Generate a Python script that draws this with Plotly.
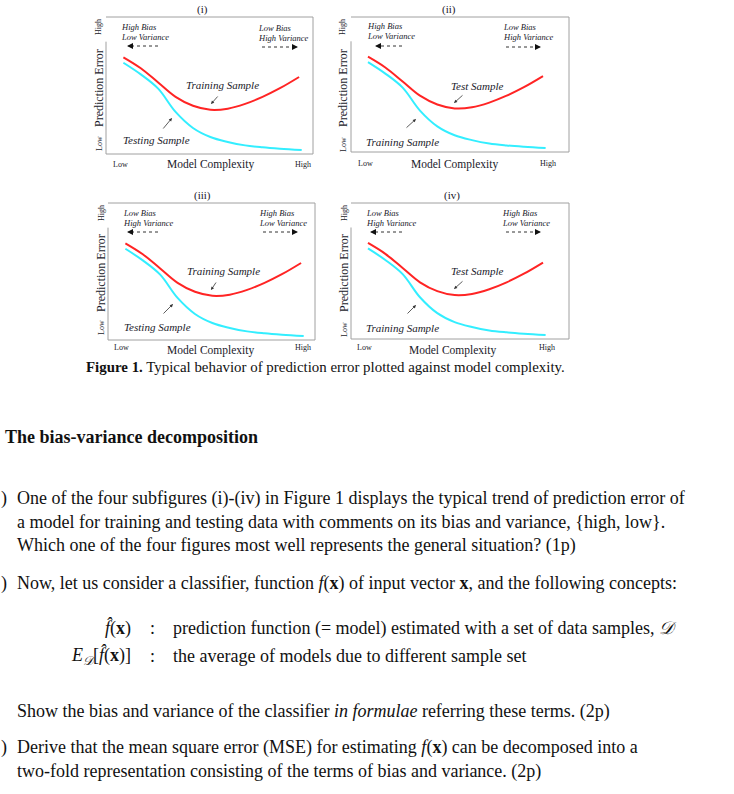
import plotly.graph_objects as go

W, H = 734, 794

# ---------------- data ----------------
complexity = [0, 1, 2, 3, 4, 5, 6, 7, 8, 9, 10.1]
red_curve = [7.06, 6.26, 5.22, 4.17, 3.52, 3.23, 3.31, 3.66, 4.17, 4.80, 5.62]
cyan_complexity = [0, 1, 2, 3, 4, 5, 6, 7, 8, 9, 10.25]
cyan_curve = [6.66, 5.81, 4.77, 3.07, 1.90, 1.24, 0.88, 0.63, 0.49, 0.39, 0.29]

panel_titles = ["(i)", "(ii)", "(iii)", "(iv)"]
left_labels = [["High Bias", "Low Variance"], ["High Bias", "Low Variance"],
               ["Low Bias", "High Variance"], ["Low Bias", "High Variance"]]
right_labels = [["Low Bias", "High Variance"], ["Low Bias", "High Variance"],
                ["High Bias", "Low Variance"], ["High Bias", "Low Variance"]]
red_labels = ["Training Sample", "Test Sample", "Training Sample", "Test Sample"]
cyan_labels = ["Testing Sample", "Training Sample", "Testing Sample", "Training Sample"]

RED = "#ff2424"
CYAN = "#33eeff"
BOX = "#a0a0a0"
TXT = "#1a1a2a"
SERIF = "Liberation Serif"


def px(x):
    return x / W


def py(y):
    return 1 - y / H


# panel geometry in pixels: box (left, top, right, bottom), x range
panels = [
    dict(box=(106, 17, 313, 154), xr=[-1, 10.9],
         title=(203, 9), ll=(119, 27), lda=(158, 127, 46), rl=(256, 28), rda=(262, 298, 47),
         rt=(222, 85), rarr=((219, 95), (211, 104)), ct=(156, 140), carr=((162, 130), (172, 118)),
         yl=99, yhigh=27, ymid=88, ylow=144, xl=(120, 164), xm=(210, 165), xh=(303, 164)),
    dict(box=(351, 17, 569, 152), xr=[-0.98, 11.6],
         title=(449, 9), ll=(365, 26), lda=(402, 375, 46), rl=(501, 27), rda=(506, 541, 47),
         rt=(478, 86), rarr=((464, 94), (454, 103)), ct=(403, 142), carr=((405, 129), (416, 119)),
         yl=343, yhigh=27, ymid=88, ylow=145, xl=(365, 163), xm=(454, 164), xh=(548, 163)),
    dict(box=(108, 203, 315, 340), xr=[-1, 10.9],
         title=(202, 195), ll=(121, 213), lda=(158, 127, 232), rl=(257, 213), rda=(263, 298, 232),
         rt=(223, 271), rarr=((217, 281), (211, 290)), ct=(157, 327), carr=((162, 315), (173, 304)),
         yl=101, yhigh=213, ymid=273, ylow=328, xl=(121, 348), xm=(210, 351), xh=(303, 348)),
    dict(box=(351, 203, 569, 339), xr=[-0.98, 11.6],
         title=(452, 195), ll=(364, 213), lda=(402, 370, 232), rl=(500, 213), rda=(506, 541, 232),
         rt=(478, 271), rarr=((464, 280), (454, 289)), ct=(403, 328), carr=((406, 315), (416, 305)),
         yl=344, yhigh=213, ymid=273, ylow=330, xl=(364, 348), xm=(453, 351), xh=(547, 348)),
]

fig = go.Figure()
annotations = []
shapes = []

for i, p in enumerate(panels):
    n = "" if i == 0 else str(i + 1)
    xa, ya = "x" + n, "y" + n
    l, t, r, b = p["box"]
    fig.add_trace(go.Scatter(x=cyan_complexity, y=cyan_curve, mode="lines",
                             line=dict(color=CYAN, width=2, shape="spline", smoothing=1.0),
                             xaxis=xa, yaxis=ya, showlegend=False, hoverinfo="skip"))
    fig.add_trace(go.Scatter(x=complexity, y=red_curve, mode="lines",
                             line=dict(color=RED, width=2, shape="spline", smoothing=1.0),
                             xaxis=xa, yaxis=ya, showlegend=False, hoverinfo="skip"))
    ax_common = dict(showgrid=False, zeroline=False, showticklabels=False, showline=False,
                     ticks="", fixedrange=True)
    fig.update_layout(**{
        "xaxis" + n: dict(domain=[px(l), px(r)], range=p["xr"], anchor=ya, **ax_common),
        "yaxis" + n: dict(domain=[py(b), py(t)], range=[0, 10], anchor=xa, **ax_common),
    })
    # box
    dref = dict(xref=xa + " domain", yref=ya + " domain", line=dict(color=BOX, width=1))
    shapes += [
        dict(type="line", x0=0, x1=1, y0=1, y1=1, **dref),
        dict(type="line", x0=1, x1=1, y0=0, y1=1, **dref),
        dict(type="line", x0=0, x1=1, y0=0, y1=0, **dref),
        dict(type="line", x0=0, x1=0, y0=0, y1=0.82, **dref),
    ]

    def txt(s, x, y, size, italic=False, anchor="center", angle=0, color=TXT):
        annotations.append(dict(text=("<i>%s</i>" % s) if italic else s, x=px(x), y=py(y),
                                xref="paper", yref="paper", showarrow=False,
                                xanchor=anchor, yanchor="middle", textangle=angle,
                                font=dict(family=SERIF, size=size, color=color)))

    txt(panel_titles[i], p["title"][0], p["title"][1], 11)
    txt(left_labels[i][0], p["ll"][0], p["ll"][1], 8.5, italic=True, anchor="left")
    txt(left_labels[i][1], p["ll"][0], p["ll"][1] + 10, 8.5, italic=True, anchor="left")
    txt(right_labels[i][0], p["rl"][0], p["rl"][1], 8.5, italic=True, anchor="left")
    txt(right_labels[i][1], p["rl"][0], p["rl"][1] + 10, 8.5, italic=True, anchor="left")
    txt(red_labels[i], p["rt"][0], p["rt"][1], 11, italic=True)
    txt(cyan_labels[i], p["ct"][0], p["ct"][1], 11, italic=True)
    txt("High", p["yl"], p["yhigh"], 8, angle=-90)
    txt("Prediction Error", p["yl"], p["ymid"], 12, angle=-90)
    txt("Low", p["yl"], p["ylow"], 8, angle=-90)
    txt("Low", p["xl"][0], p["xl"][1], 8)
    txt("Model Complexity", p["xm"][0], p["xm"][1], 11.5)
    txt("High", p["xh"][0], p["xh"][1], 8)

    # dashed arrows
    for (x0, x1, yy) in (p["lda"], p["rda"]):
        d = 1 if x1 > x0 else -1
        shapes.append(dict(type="line", xref="paper", yref="paper",
                           x0=px(x0), x1=px(x1 - d * 5), y0=py(yy), y1=py(yy),
                           line=dict(color="#333333", width=1, dash="dot")))
        annotations.append(dict(x=px(x1), y=py(yy), xref="paper", yref="paper", text="",
                                showarrow=True, ax=-d * 7, ay=0, arrowhead=2, arrowsize=1,
                                arrowwidth=1.2, arrowcolor="#111111"))
    # solid pointer arrows
    for (tail, head) in (p["rarr"], p["carr"]):
        annotations.append(dict(x=px(head[0]), y=py(head[1]), xref="paper", yref="paper",
                                text="", showarrow=True, ax=tail[0] - head[0], ay=tail[1] - head[1],
                                arrowhead=2, arrowsize=0.8, arrowwidth=0.8, arrowcolor="#333333"))

# ---------------- caption and page text ----------------
def page(s, x, y, size=18, anchor="left", bold=False):
    annotations.append(dict(text=("<b>%s</b>" % s) if bold else s, x=px(x), y=py(y),
                            xref="paper", yref="paper", showarrow=False,
                            xanchor=anchor, yanchor="middle", align="left", borderpad=0,
                            font=dict(family=SERIF, size=size, color="#111111")))

F = "<i>f</i>(<b>x</b>)"
FH = "<i>f̂</i>(<b>x</b>)"
page("<b>Figure 1.</b> Typical behavior of prediction error plotted against model complexity.", 85, 367, size=14.9)
page("The bias-variance decomposition", 4, 437, size=18, bold=True)
page(")", 4, 498, anchor="center")
page("One of the four subfigures (i)-(iv) in Figure 1 displays the typical trend of prediction error of", 16, 498)
page("a model for training and testing data with comments on its bias and variance, {high, low}.", 16, 522)
page("Which one of the four figures most well represents the general situation? (1p)", 16, 545)
page(")", 4, 583, anchor="center")
page("Now, let us consider a classifier, function " + F + " of input vector <b>x</b>, and the following concepts:", 16, 583)
page(FH, 132, 628, anchor="right")
page(":", 152, 628, anchor="center")
page("prediction function (= model) estimated with a set of data samples, <i>𝒟</i>", 172, 628)
page("<i>E</i><sub><i>𝒟</i></sub>[" + FH + "]", 132, 656, anchor="right")
page(":", 152, 656, anchor="center")
page("the average of models due to different sample set", 172, 656)
page("Show the bias and variance of the classifier <i>in formulae</i> referring these terms. (2p)", 16, 711)
page(")", 4, 747, anchor="center")
page("Derive that the mean square error (MSE) for estimating " + F + " can be decomposed into a", 16, 747)
page("two-fold representation consisting of the terms of bias and variance. (2p)", 16, 771)

fig.update_layout(width=W, height=H, margin=dict(l=0, r=0, t=0, b=0),
                  paper_bgcolor="white", plot_bgcolor="white",
                  annotations=annotations, shapes=shapes, showlegend=False)
fig.write_html("out.html", config={"displayModeBar": False},
               post_script="document.body.style.margin='0px';document.body.style.overflow='hidden';")
